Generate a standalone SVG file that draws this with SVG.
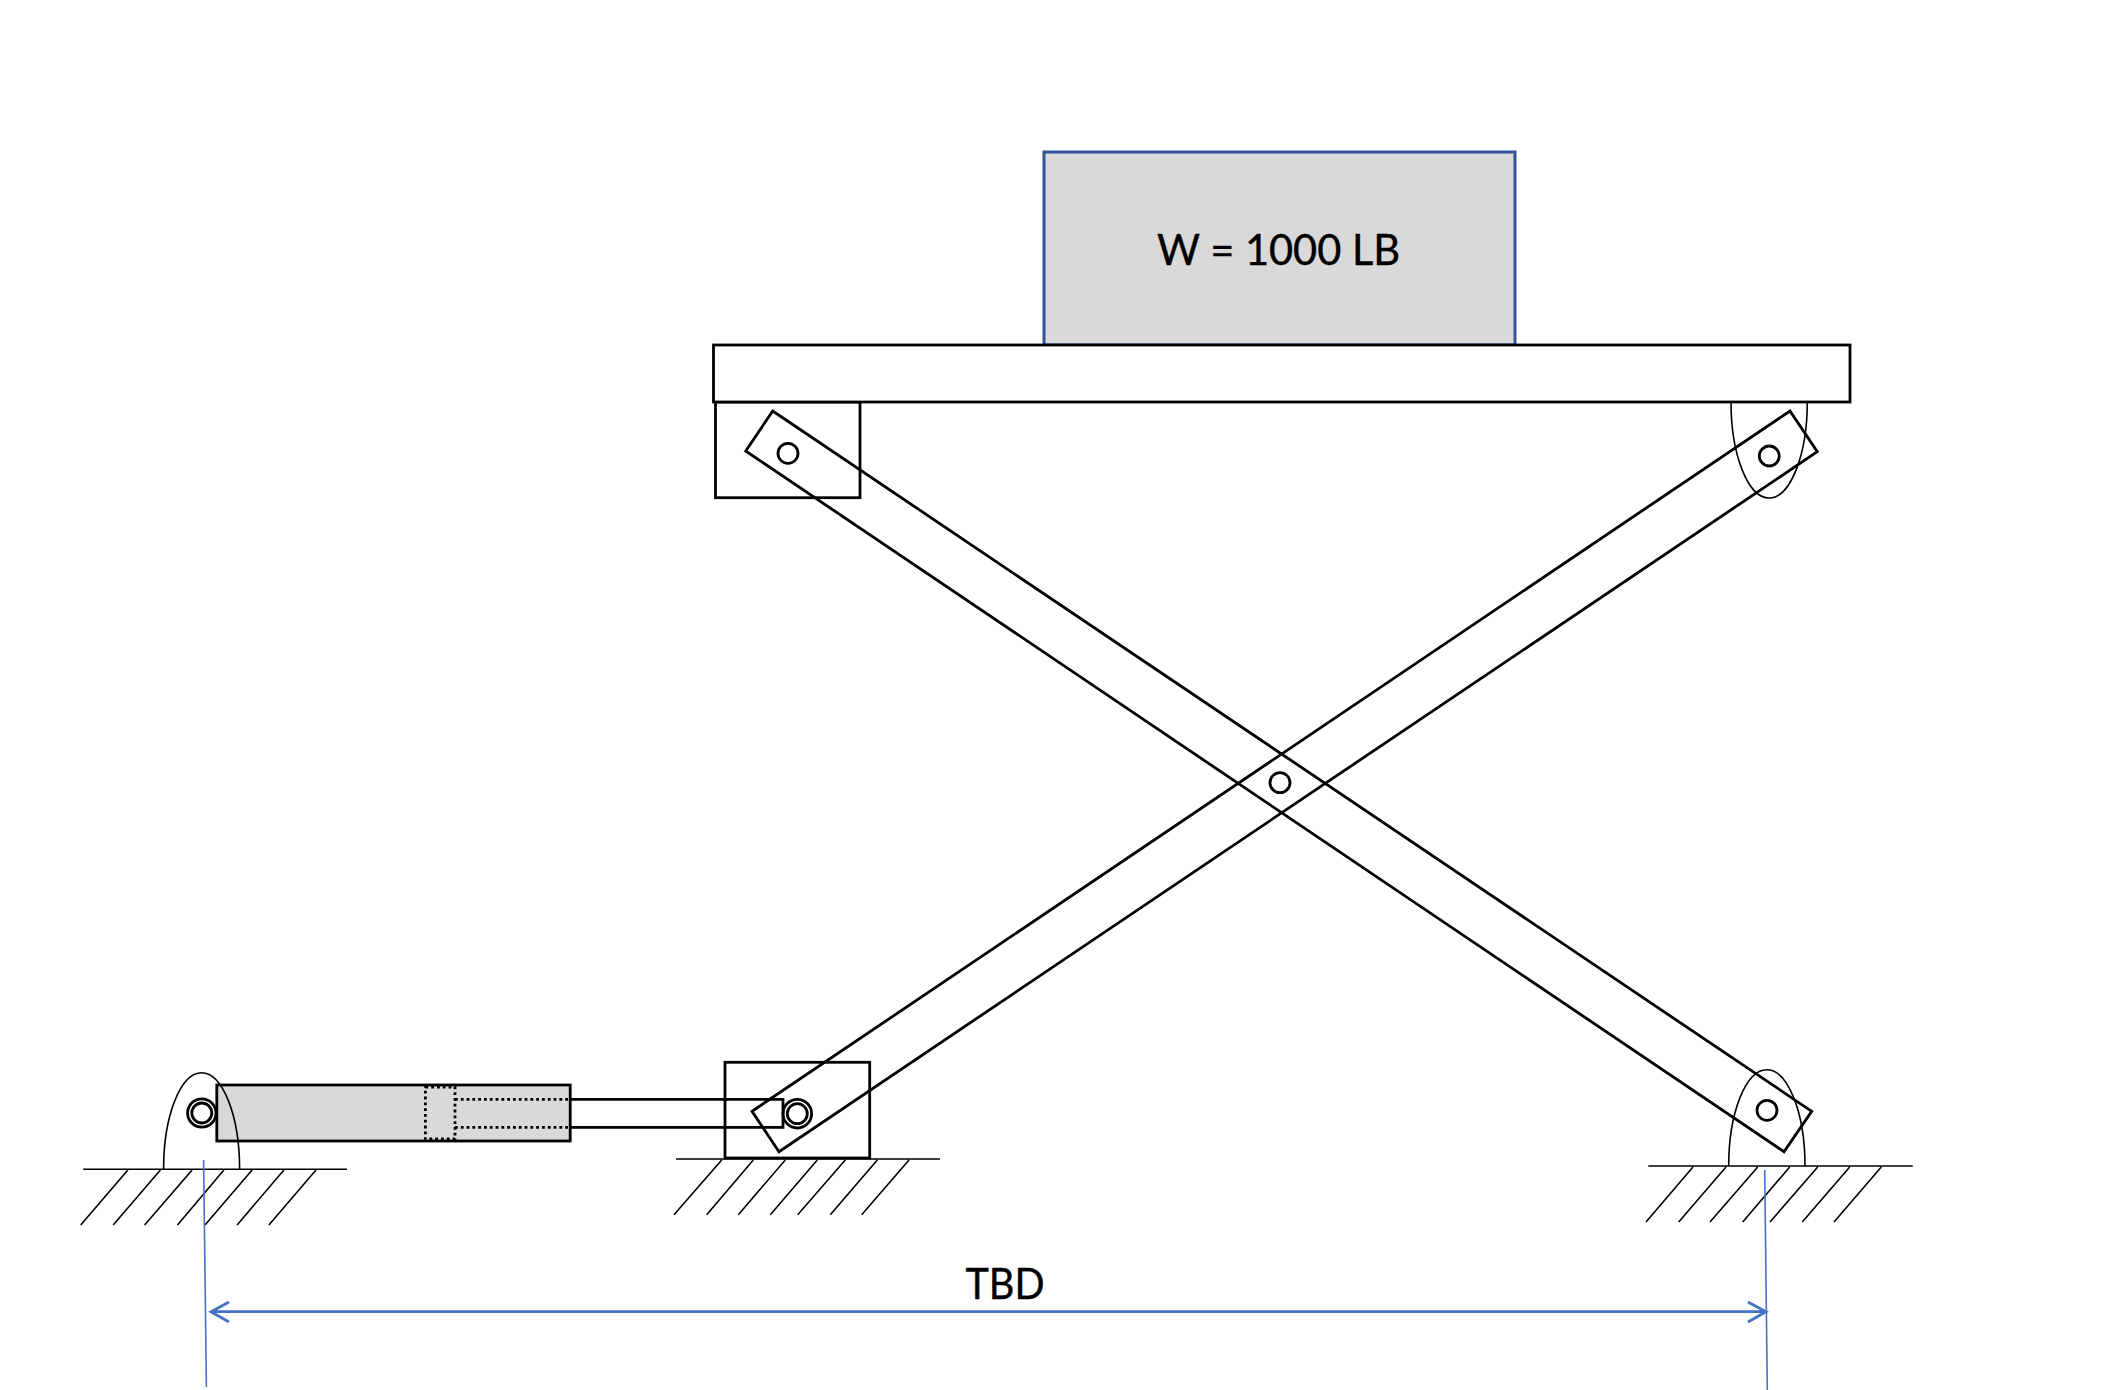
<svg xmlns="http://www.w3.org/2000/svg" width="2128" height="1390" viewBox="0 0 2128 1390">
<style>
.s{fill:none;stroke:#000;stroke-width:2.8}
.w{fill:#fff;stroke:#000;stroke-width:2.8}
.t{fill:none;stroke:#000;stroke-width:1.6}
.d{fill:none;stroke:#000;stroke-width:2.8;stroke-dasharray:2.8 3}
.g{fill:#d9d9d9;stroke:#000;stroke-width:2.8}
.b{fill:none;stroke:#4472c4;stroke-width:2.8}
.bt{fill:none;stroke:#4472c4;stroke-width:1.6}
.l{font-family:Lato,"Liberation Sans",sans-serif;font-size:43px;fill:#000;stroke:#000;stroke-width:.4;text-anchor:middle}
</style>
<rect width="2128" height="1390" fill="#fff"/>
<g id="load"><rect x="1044" y="152" width="471" height="193" fill="#d9d9d9" stroke="#2f5597" stroke-width="3"/><text class="l" x="1278.6" y="265" textLength="243" lengthAdjust="spacingAndGlyphs">W = 1000 LB</text></g>
<g id="platform-block"><rect class="s" x="715.5" y="402" width="144.5" height="95.7"/></g>
<g id="platform"><rect class="w" x="713.5" y="345" width="1136.5" height="57"/></g>
<g id="top-lug"><path class="t" d="M1731 402A38.15 96 0 0 0 1807.3 402"/></g>
<g id="bar-1"><polygon class="s" points="772.7,411 745.7,451 1784,1151.7 1811.7,1111.3"/></g>
<g id="bar-2"><polygon class="s" points="1790,411 1817.3,451.7 779,1151.7 752,1111.3"/></g>
<g id="pins"><circle class="s" cx="788" cy="453.3" r="10"/><circle class="s" cx="1769.3" cy="456" r="10"/><circle class="s" cx="1280" cy="782.7" r="10"/><circle class="s" cx="1767" cy="1110.3" r="10"/></g>
<g id="slider"><rect class="s" x="725" y="1062.3" width="144.7" height="95.7"/><path class="s" d="M570.7 1099.3H783V1127.3H570.7"/><circle class="s" cx="797.3" cy="1113.7" r="14.3"/><circle class="s" cx="797.3" cy="1113.7" r="10"/></g>
<g id="cylinder"><rect class="g" x="216.8" y="1085" width="353.4" height="56"/><rect class="d" x="425.4" y="1087" width="29.6" height="52"/><path class="d" d="M455 1099.3H570M455 1127.3H570"/><circle class="s" cx="201.8" cy="1113" r="14.2"/><circle class="s" cx="201.8" cy="1113" r="10"/></g>
<g id="left-lug"><path class="t" d="M163.6 1169A38 96.3 0 0 1 239.6 1169"/></g>
<g id="right-lug"><path class="t" d="M1728.7 1166A38.15 96.3 0 0 1 1805 1166"/></g>
<g id="ground-left"><path class="t" d="M83.2 1169.3H347M127.9 1170L80.7 1225M160.4 1170L113.2 1225M192.1 1170L144.6 1225M223.9 1170L177.5 1225M252.1 1170L205 1225M283.9 1170L237.1 1225M316 1170L268.9 1225"/></g>
<g id="ground-mid"><path class="t" d="M676 1159H940M721.7 1160L674 1214.7M753.3 1160L706.7 1214.7M785.3 1160L738.3 1214.7M817.3 1160L770.3 1214.7M845.3 1160L797.7 1214.7M877.3 1160L830.3 1214.7M909 1160L861.7 1214.7"/></g>
<g id="ground-right"><path class="t" d="M1648.3 1166H1912.7M1693 1167L1646 1222M1726 1167L1678.7 1222M1757.7 1167L1710 1222M1789.7 1167L1742.7 1222M1817.7 1167L1770 1222M1849.7 1167L1802.3 1222M1881.3 1167L1834 1222"/></g>
<g id="connectors"><path class="bt" d="M203.6 1160L206.4 1387M1764.7 1170L1767.3 1390"/><path class="b" d="M211 1311.7H1766M229 1302L211 1311.7L229 1322M1748 1302L1766 1311.7L1748 1322"/></g>
<text class="l" x="1005" y="1299" textLength="79" lengthAdjust="spacingAndGlyphs">TBD</text>
</svg>
